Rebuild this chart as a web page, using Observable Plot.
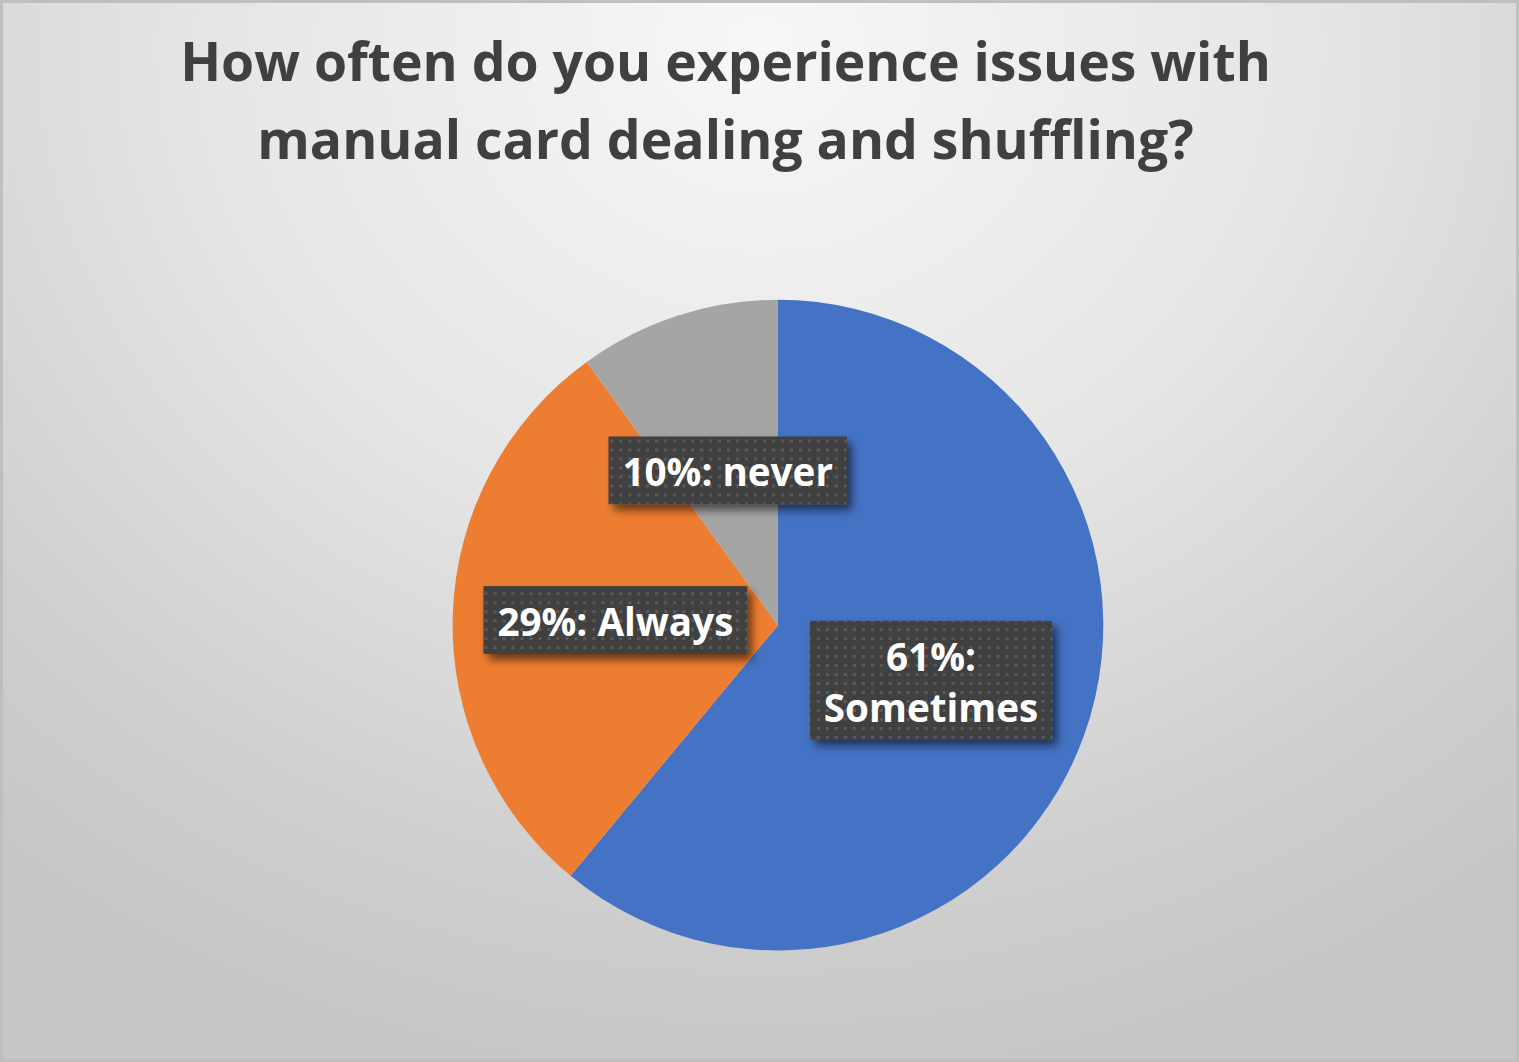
<!DOCTYPE html>
<html><head><meta charset="utf-8">
<script src="https://cdn.jsdelivr.net/npm/d3@7"></script>
<script src="https://cdn.jsdelivr.net/npm/@observablehq/plot@0.6"></script>
<style>
html,body{margin:0;padding:0;background:#fff;}
#frame{position:relative;width:1519px;height:1062px;box-sizing:border-box;border:3px solid #bfbfbf;
  background:radial-gradient(ellipse 80% 100% at 50% 4%, #f7f7f7 0%, #e6e6e6 45%, #cfcfcf 80%, #c6c6c6 100%);
  overflow:hidden;font-family:"Open Sans",sans-serif;}
#title{position:absolute;left:0;top:19px;width:1445px;text-align:center;font-weight:700;font-size:53.5px;line-height:78px;color:#404040;}
#chart{position:absolute;left:-3px;top:187px;}
</style></head>
<body>
<div id="frame">
  <div id="title">How often do you experience issues with<br>manual card dealing and shuffling?</div>
  <div id="chart"></div>
</div>
<script>
const categories = ["Sometimes", "Always", "never"];
const shares = [61, 29, 10];
const colors = ["#4472C4", "#ED7D31", "#A5A5A5"];
const labelLines = [["61%:", "Sometimes"], ["29%: Always"], ["10%: never"]];

const data = categories.map((c, i) => ({category: c, share: shares[i], lines: labelLines[i]}));

const R = 326;
const FS = 38.7, CAP = 28, LH = 51, PADTOP = 22, PADBOT = 18, PADX = 14;

function center(d) {
  return [d.marginLeft + (d.width - d.marginLeft - d.marginRight) / 2,
          d.marginTop + (d.height - d.marginTop - d.marginBottom) / 2];
}

const arcs = d3.pie().sort(null).value(d => d.share)(data);
const arcGen = d3.arc().innerRadius(0).outerRadius(R);

function pieMark(index, scales, values, dims) {
  const [cx, cy] = center(dims);
  const color = (scales && scales.color) ? scales.color : d3.scaleOrdinal(categories, colors);
  const g = d3.create("svg:g").attr("transform", `translate(${cx},${cy})`);
  g.selectAll("path").data(arcs).join("path")
    .attr("d", arcGen)
    .attr("fill", d => color(d.data.category));
  return g.node();
}

function labelMark(index, scales, values, dims) {
  const [cx, cy] = center(dims);
  const g = d3.create("svg:g").attr("transform", `translate(${cx},${cy})`);
  const defs = g.append("defs");
  const pat = defs.append("pattern").attr("id", "dots").attr("patternUnits", "userSpaceOnUse")
    .attr("width", 9).attr("height", 9);
  pat.append("rect").attr("width", 9).attr("height", 9).attr("fill", "#404040");
  pat.append("rect").attr("x", 3).attr("y", 3).attr("width", 3).attr("height", 3).attr("fill", "#5a5a5a");
  const f = defs.append("filter").attr("id", "shadow").attr("x", "-20%").attr("y", "-20%").attr("width", "150%").attr("height", "160%");
  f.append("feDropShadow").attr("dx", 5).attr("dy", 6).attr("stdDeviation", 4).attr("flood-color", "#000").attr("flood-opacity", 0.55);
  arcs.forEach(a => {
    const [x, y] = arcGen.centroid(a);
    const n = a.data.lines.length;
    const boxH = CAP + (n - 1) * LH + PADTOP + PADBOT;
    const top = y - boxH / 2;
    const lg = g.append("g").attr("class", "lbl");
    lg.append("rect").attr("y", top).attr("height", boxH).attr("x", x - 100).attr("width", 200)
      .attr("fill", "url(#dots)").attr("filter", "url(#shadow)");
    const t = lg.append("text").attr("text-anchor", "middle").attr("fill", "#ffffff")
      .attr("font-family", "'Open Sans', sans-serif").attr("font-weight", 700).attr("font-size", FS);
    a.data.lines.forEach((ln, i) => {
      t.append("tspan").attr("x", x).attr("y", top + PADTOP + CAP + i * LH).text(ln);
    });
  });
  return g.node();
}

const chart = Plot.plot({
  width: 1519,
  height: 872,
  marginLeft: 40, marginRight: 0, marginTop: 0, marginBottom: 0,
  x: {axis: null}, y: {axis: null},
  color: {domain: categories, range: colors},
  style: {background: "transparent", overflow: "visible"},
  marks: [pieMark, labelMark]
});
document.getElementById("chart").appendChild(chart);

// size label boxes to their text
d3.select(chart).selectAll("g.lbl").each(function() {
  const gEl = d3.select(this);
  const bb = this.querySelector("text").getBBox();
  gEl.select("rect").attr("x", bb.x - PADX).attr("width", bb.width + 2 * PADX);
});
</script>
</body></html>
